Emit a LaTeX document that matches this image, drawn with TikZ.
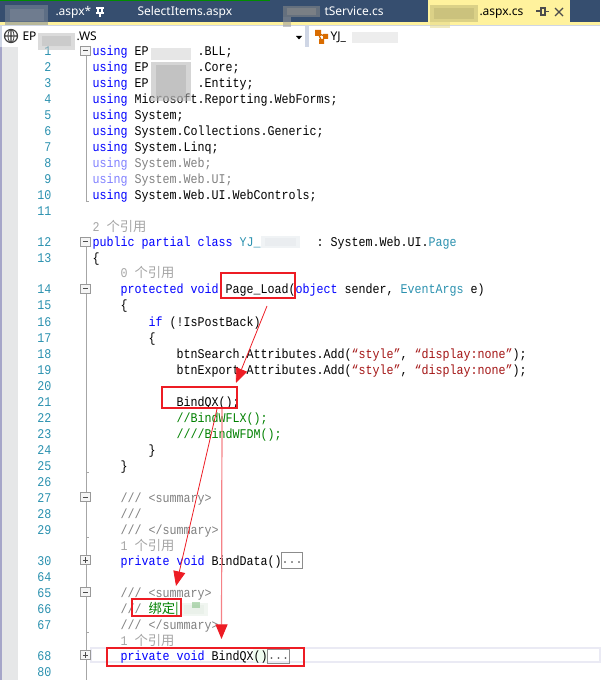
\documentclass[tikz,border=0pt]{standalone}
\usepackage{fontspec}
\usepackage{xcolor}
\usepackage{tikz}
\usetikzlibrary{arrows.meta}
\setmonofont[FakeStretch=0.875]{Liberation Mono}
\newfontfamily\cjkfont{Noto Sans CJK SC}
\newfontfamily\tabfont{Noto Sans}
\definecolor{kwblue}{RGB}{0,0,255}
\definecolor{kwfade}{RGB}{128,128,255}
\definecolor{typeteal}{RGB}{43,145,175}
\definecolor{cmtgreen}{RGB}{0,128,0}
\definecolor{docgrey}{RGB}{128,128,128}
\definecolor{refgrey}{RGB}{165,165,165}
\definecolor{strred}{RGB}{163,21,21}
\definecolor{markred}{RGB}{237,28,36}
\definecolor{tabblue}{RGB}{54,78,111}
\definecolor{tabyellow}{RGB}{255,242,157}
\definecolor{navgrey}{RGB}{207,214,229}
\definecolor{gutter}{RGB}{230,231,232}
\definecolor{lineband}{RGB}{234,234,244}
\newcommand{\kw}[1]{\textcolor{kwblue}{#1}}
\newcommand{\ty}[1]{\textcolor{typeteal}{#1}}
\newcommand{\st}[1]{\textcolor{strred}{#1}}
\tikzset{every picture/.style={line width=0.75pt}}
\tikzset{
  code/.style={anchor=base west,inner sep=0pt,yshift=-0.75pt,font=\ttfamily\fontsize{10}{12}\selectfont},
  doc/.style={code,text=docgrey},
  green/.style={code,text=cmtgreen},
  refs/.style={code,text=refgrey},
  num/.style={anchor=base east,inner sep=0pt,yshift=-0.75pt,text=typeteal,font=\ttfamily\fontsize{10}{12}\selectfont},
  tabtext/.style={anchor=base west,inner sep=0pt,text=white,font=\tabfont\fontsize{9}{11}\selectfont},
  navtext/.style={anchor=base west,inner sep=0pt,text=black,font=\tabfont\fontsize{9}{11}\selectfont},
  foldbox/.style={draw=black!40,fill=black!4,minimum size=7pt,inner sep=0pt,line width=0.75pt},
  foldminus/.style={foldbox,path picture={\draw[black!70] ([xshift=1.5pt]path picture bounding box.west) -- ([xshift=-1.5pt]path picture bounding box.east);}},
  foldplus/.style={foldbox,path picture={\draw[black!70] ([xshift=1.5pt]path picture bounding box.west) -- ([xshift=-1.5pt]path picture bounding box.east) ([yshift=1.5pt]path picture bounding box.south) -- ([yshift=-1.5pt]path picture bounding box.north);}},
  foldline/.style={draw=black!35,line width=0.75pt},
  collapsed/.style={draw=black!45,inner sep=0pt,minimum width=16pt,minimum height=12pt,text height=5.5pt,text depth=0pt,text=black!60,font=\ttfamily\fontsize{10}{12}\selectfont},
  markbox/.style={draw=markred,line width=1.5pt,inner sep=0pt},
  markarrow/.style={draw=markred,line width=0.6pt,-{Triangle[length=11pt,width=9pt,color=markred,fill=markred]}},
  blur/.style={draw=none,opacity=0.55}
}
\begin{document}
\begin{tikzpicture}[x=0.75pt,y=0.75pt,yscale=-1,xscale=1]
\useasboundingbox (0,0) rectangle (600,680);

%Shape: Rectangle gutter
\fill [gutter] (0,47) rectangle (18,680);
\fill [blue!40!black!35] (0,47) rectangle (1.5,680);
%Shape: Rectangle tab bar
\fill [tabblue] (0,0) rectangle (600,25);
\fill [green!55!black] (0,0) rectangle (270,1.5);
\fill [tabyellow] (428,0) rectangle (570,25);
\fill [tabyellow] (0,22) rectangle (600,25);
%Shape: Rectangle navigation bar
\fill [navgrey] (0,25) rectangle (600,47);
\fill [white] (2,26) rectangle (305,47);
\fill [white] (309,26) rectangle (600,47);
%Shape: Triangle combo arrow
\fill [black] (296,36) -- (302,36) -- (299,39.5) -- cycle;
%Shape: globe icon
\draw [black!75,line width=0.9pt] (11,36) circle (6.5) (4.5,36) -- (17.5,36) (11,29.5) -- (11,42.5);
\draw [black!75,line width=0.6pt] (11,36) ellipse (3 and 6.5);
%Shape: class icon
\draw [orange!80!black,line width=0.9pt] (318,33) -- (326,37) (318,33) -- (322,42);
\fill [orange!85!black] (315,30) rectangle (321,36) (323,34) rectangle (328,39) (319,39) rectangle (324,44);
%Shape: Rectangle current line
\draw [lineband,line width=1.1pt] (91,648) rectangle (600,662);
\fill [black!12!green!6] (253,648) rectangle (267,662);

% Text Node tabs
\node [tabtext] (tabone) at (55,16) {.aspx*};
\node [tabtext] (tabtwo) at (137,16) {SelectItems.aspx};
\node [tabtext] (tabthree) at (324,16) {tService.cs};
\node [tabtext,text=black] (tabfour) at (479,16) {.aspx.cs};
\node [navtext] (navleft) at (22,41) {EP};
\node [navtext] (navleftend) at (76,41) {.WS};
\node [navtext] (navright) at (330,41) {YJ\_};
%Shape: pin and close marks
\draw [white,line width=0.8pt] (96,8) -- (104,8) (98,8) rectangle (102,13) (96,13) -- (104,13) (100,13) -- (100,17);
\draw [black!70,line width=0.8pt] (536,11) -- (541,11) (541,8) rectangle (545,15) (545,11.5) -- (549,11.5);
\draw [black!70,line width=1pt] (555,8) -- (563,16) (563,8) -- (555,16);

% Text Node line numbers
\node [num] (num1) at (52,55) {1};
\node [num] (num2) at (52,71) {2};
\node [num] (num3) at (52,87) {3};
\node [num] (num4) at (52,103) {4};
\node [num] (num5) at (52,119) {5};
\node [num] (num6) at (52,135) {6};
\node [num] (num7) at (52,151) {7};
\node [num] (num8) at (52,167) {8};
\node [num] (num9) at (52,183) {9};
\node [num] (num10) at (52,199) {10};
\node [num] (num11) at (52,215) {11};
\node [num] (num12) at (52,246) {12};
\node [num] (num13) at (52,262) {13};
\node [num] (num14) at (52,293) {14};
\node [num] (num15) at (52,309) {15};
\node [num] (num16) at (52,325) {16};
\node [num] (num17) at (52,341) {17};
\node [num] (num18) at (52,357) {18};
\node [num] (num19) at (52,373) {19};
\node [num] (num20) at (52,389) {20};
\node [num] (num21) at (52,405) {21};
\node [num] (num22) at (52,421) {22};
\node [num] (num23) at (52,437) {23};
\node [num] (num24) at (52,453) {24};
\node [num] (num25) at (52,469) {25};
\node [num] (num26) at (52,485) {26};
\node [num] (num27) at (52,501) {27};
\node [num] (num28) at (52,517) {28};
\node [num] (num29) at (52,533) {29};
\node [num] (num30) at (52,564) {30};
\node [num] (num64) at (52,580) {64};
\node [num] (num65) at (52,596) {65};
\node [num] (num66) at (52,612) {66};
\node [num] (num67) at (52,628) {67};
\node [num] (num68) at (52,659) {68};
\node [num] (num80) at (52,675) {80};

%Straight Lines fold guides
\draw [foldline] (86,56) -- (86,202) -- (89,202);
\draw [foldline] (86,247) -- (86,680);
\draw [foldline] (86,472) -- (89,472);
\draw [foldline] (86,537) -- (89,537);
\draw [foldline] (86,632) -- (89,632);
%Shape: fold boxes
\node [foldminus] (foldusing) at (85.5,51) {};
\node [foldminus] (foldclass) at (85.5,242) {};
\node [foldminus] (foldload) at (85.5,289) {};
\node [foldminus] (foldsumone) at (85.5,497) {};
\node [foldplus] (folddata) at (85.5,560) {};
\node [foldminus] (foldsumtwo) at (85.5,592) {};
\node [foldplus] (foldbind) at (85.5,655) {};

% Text Node code
\node [code] (line1) at (92,55) {\kw{using} EP~~~~~~~.BLL;};
\node [code] (line2) at (92,71) {\kw{using} EP~~~~~~~.Core;};
\node [code] (line3) at (92,87) {\kw{using} EP~~~~~~~.Entity;};
\node [code] (line4) at (92,103) {\kw{using} Microsoft.Reporting.WebForms;};
\node [code] (line5) at (92,119) {\kw{using} System;};
\node [code] (line6) at (92,135) {\kw{using} System.Collections.Generic;};
\node [code] (line7) at (92,151) {\kw{using} System.Linq;};
\node [code,text=docgrey] (line8) at (92,167) {\textcolor{kwfade}{using} System.Web;};
\node [code,text=docgrey] (line9) at (92,183) {\textcolor{kwfade}{using} System.Web.UI;};
\node [code] (line10) at (92,199) {\kw{using} System.Web.UI.WebControls;};
\node [refs] (refclass) at (92,231) {2 {\cjkfont\fontsize{10}{12}\selectfont 个引用}};
\node [code] (line12) at (92,246) {\kw{public partial class} \ty{YJ\_}~~~~~~~ : System.Web.UI.\ty{Page}};
\node [code] (line13) at (92,262) {\{};
\node [refs] (refload) at (120,277) {0 {\cjkfont\fontsize{10}{12}\selectfont 个引用}};
\node [code] (line14) at (120,293) {\kw{protected void} Page\_Load(\kw{object} sender, \ty{EventArgs} e)};
\node [code] (line15) at (120,309) {\{};
\node [code] (line16) at (148,325) {\kw{if} (!IsPostBack)};
\node [code] (line17) at (148,341) {\{};
\node [code] (line18) at (176,357) {btnSearch.Attributes.Add(\st{“style”}, \st{“display:none”});};
\node [code] (line19) at (176,373) {btnExport.Attributes.Add(\st{“style”}, \st{“display:none”});};
\node [code] (line21) at (176,405) {BindQX();};
\node [green] (line22) at (176,421) {//BindWFLX();};
\node [green] (line23) at (176,437) {////BindWFDM();};
\node [code] (line24) at (148,453) {\}};
\node [code] (line25) at (120,469) {\}};
\node [doc] (line27) at (120,501) {/// <summary>};
\node [doc] (line28) at (120,517) {///};
\node [doc] (line29) at (120,533) {/// </summary>};
\node [refs] (refdata) at (120,549) {1 {\cjkfont\fontsize{10}{12}\selectfont 个引用}};
\node [code] (line30) at (120,564) {\kw{private void} BindData()};
\node [collapsed] (moredata) at (292,560) {...};
\node [doc] (line65) at (120,596) {/// <summary>};
\node [doc] (line66) at (120,612) {///};
\node [green,font=\cjkfont\fontsize{10}{12}\selectfont] (bindnote) at (148,612) {绑定|};
\node [doc] (line67) at (120,628) {/// </summary>};
\node [refs] (refbind) at (120,644) {1 {\cjkfont\fontsize{10}{12}\selectfont 个引用}};
\node [code] (line68) at (120,659) {\kw{private void} BindQX()};
\node [collapsed,minimum height=10.5pt] (morebind) at (278.5,656) {...};

%Shape: Rectangle blurred parts
\fill [blur,black!25!tabblue!60!white] (5,5) rectangle (48,25);
\fill [blur,black!25!tabblue!60!white] (10,9) rectangle (44,21);
\fill [blur,black!45] (283,6) rectangle (320,17);
\fill [blur,black!45] (287,8) rectangle (316,15);
\fill [blur,black!40] (283,17) rectangle (291,27);
\fill [blur,tabyellow!75!black] (430,5) rectangle (478,22);
\fill [blur,tabyellow!75!black] (434,8) rectangle (474,19);
\fill [blur,tabyellow!90!black] (430,22) rectangle (450,28);
\fill [blur,black!25] (38,33) rectangle (75,50);
\fill [blur,black!25] (42,36) rectangle (71,46);
\fill [blur,black!12] (352,32) rectangle (398,43);
\fill [blur,black!18] (151,48) rectangle (191,60);
\fill [blur,black!30] (151,62) rectangle (191,101);
\fill [blur,black!30] (156,65) rectangle (186,98);
\fill [blur,cyan!30!black!12] (261,236) rectangle (300,248);
\fill [blur,cyan!30!black!12] (265,238) rectangle (296,246);
\fill [blur,green!35!black!10] (180,603) rectangle (208,616);
\fill [blur,green!35!black!10] (184,605) rectangle (204,614);
\fill [blur,green!50!black!50] (192,602) rectangle (200,608);

%Shape: Rectangle marks
\node [markbox,minimum width=55.5pt,minimum height=18.75pt] (boxload) at (258,285.5) {};
\node [markbox,minimum width=56.25pt,minimum height=15.75pt] (boxbind) at (199.5,397.5) {};
\node [markbox,minimum width=36.75pt,minimum height=12.75pt] (boxnote) at (156.5,607.5) {};
\node [markbox,minimum width=147.75pt,minimum height=13.5pt] (boxcall) at (205.5,657) {};

%Straight Lines
\draw [markarrow] ([shift={(9,7)}]boxload.south) -- ([shift={(-2,-3)}]boxbind.north east);
\draw [markarrow] ([shift={(17.5,0)}]boxbind.south) -- ([shift={(19.5,-12)}]boxnote.north);
\draw [markarrow,draw=markred!55,line width=0.9pt] ([shift={(22.5,0)}]boxbind.south) -- ([shift={(16,-8)}]boxcall.north);

\end{tikzpicture}
\end{document}
